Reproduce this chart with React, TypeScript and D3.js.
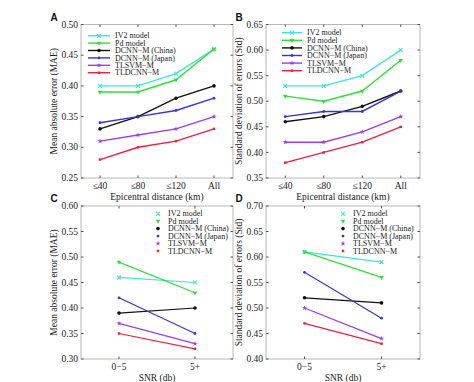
import React from "react";
import * as d3 from "d3";

const seriesNames = ["IV2 model", "Pd model", "DCNN\u2212M (China)", "DCNN\u2212M (Japan)", "TLSVM\u2212M", "TLDCNN\u2212M"];
const seriesColors = ["#3fe6d2", "#2fe03a", "#111111", "#3535d8", "#9b3cf0", "#ee2040"];
const seriesMarkers = ["x", "triDown", "circle", "dot", "star", "square"];

const distCats = ["\u226440", "\u226480", "\u2264120", "All"];
const snrCats = ["0\u22125", "5+"];

const maeDist = [
  [0.40, 0.40, 0.42, 0.46],
  [0.39, 0.39, 0.41, 0.46],
  [0.33, 0.35, 0.38, 0.40],
  [0.34, 0.35, 0.36, 0.38],
  [0.31, 0.32, 0.33, 0.35],
  [0.28, 0.30, 0.31, 0.33],
];
const stdDist = [
  [0.53, 0.53, 0.55, 0.60],
  [0.51, 0.50, 0.52, 0.58],
  [0.46, 0.47, 0.49, 0.52],
  [0.47, 0.48, 0.48, 0.52],
  [0.42, 0.42, 0.44, 0.47],
  [0.38, 0.40, 0.42, 0.45],
];
const maeSnr = [
  [0.46, 0.45],
  [0.49, 0.43],
  [0.39, 0.40],
  [0.42, 0.35],
  [0.37, 0.33],
  [0.35, 0.32],
];
const stdSnr = [
  [0.61, 0.59],
  [0.61, 0.56],
  [0.52, 0.51],
  [0.57, 0.48],
  [0.50, 0.44],
  [0.47, 0.43],
];

const yTicksA = ["0.25", "0.30", "0.35", "0.40", "0.45", "0.50"];
const yTicksB = ["0.35", "0.40", "0.45", "0.50", "0.55", "0.60", "0.65"];
const yTicksC = ["0.30", "0.35", "0.40", "0.45", "0.50", "0.55", "0.60"];
const yTicksD = ["0.40", "0.45", "0.50", "0.55", "0.60", "0.65", "0.70"];

const FONT = "'Liberation Serif', 'Times New Roman', serif";

function Marker({ type, x, y, color }: { type: string; x: number; y: number; color: string }) {
  if (type === "x") {
    const s = 1.9;
    return (
      <path d={`M${x - s},${y - s}L${x + s},${y + s}M${x - s},${y + s}L${x + s},${y - s}`} stroke={color} strokeWidth={1.1} fill="none" />
    );
  }
  if (type === "triDown") {
    const p = d3.symbol(d3.symbolTriangle, 9)();
    return <path d={p || ""} transform={`translate(${x},${y}) rotate(180)`} fill={color} />;
  }
  if (type === "circle") {
    return <circle cx={x} cy={y} r={1.8} fill={color} />;
  }
  if (type === "dot") {
    return <circle cx={x} cy={y} r={1.4} fill={color} />;
  }
  if (type === "star") {
    const p = d3.symbol(d3.symbolStar, 8)();
    return <path d={p || ""} transform={`translate(${x},${y})`} fill={color} />;
  }
  const p = d3.symbol(d3.symbolSquare, 6)();
  return <path d={p || ""} transform={`translate(${x},${y})`} fill={color} />;
}

type PanelProps = {
  letter: string;
  box: { x0: number; x1: number; y0: number; y1: number };
  cats: string[];
  data: number[][];
  yTicks: string[];
  yLabel: string;
  xLabel: string;
  legendLines: boolean;
  legend: { x: number; y: number; dy: number; lineLen: number };
  lineWidth: number;
};

function Panel({ letter, box, cats, data, yTicks, yLabel, xLabel, legendLines, legend, lineWidth }: PanelProps) {
  const ticks = yTicks.map(Number);
  const x = d3.scaleLinear().domain([0.5, cats.length + 0.5]).range([box.x0, box.x1]);
  const y = d3.scaleLinear().domain([ticks[0], ticks[ticks.length - 1]]).range([box.y1, box.y0]);
  const line = d3.line<number>().x((_, i) => x(i + 1)).y((v) => y(v));
  const tk = 2.5;
  const tickColor = "#555";
  return (
    <g>
      <rect x={box.x0} y={box.y0} width={box.x1 - box.x0} height={box.y1 - box.y0} fill="white" stroke="#b8b8b8" strokeWidth={1} />
      {yTicks.map((lab, i) => {
        const t = ticks[i];
        return (
          <g key={"y" + lab}>
            <line x1={box.x0} x2={box.x0 + tk} y1={y(t)} y2={y(t)} stroke={tickColor} />
            <line x1={box.x1} x2={box.x1 - tk} y1={y(t)} y2={y(t)} stroke={tickColor} />
            <text x={box.x0 - 3} y={y(t)} dy="0.33em" textAnchor="end" fontSize={9.5} fontFamily={FONT} fill="#222">
              {lab}
            </text>
          </g>
        );
      })}
      {cats.map((c, i) => (
        <g key={"x" + c}>
          <line x1={x(i + 1)} x2={x(i + 1)} y1={box.y1} y2={box.y1 - tk} stroke={tickColor} />
          <line x1={x(i + 1)} x2={x(i + 1)} y1={box.y0} y2={box.y0 + tk} stroke={tickColor} />
          <text x={x(i + 1)} y={box.y1 + 11} textAnchor="middle" fontSize={9.5} fontFamily={FONT} fill="#222">
            {c}
          </text>
        </g>
      ))}
      {data.map((vals, si) => (
        <g key={"s" + si}>
          <path d={line(vals) || ""} fill="none" stroke={seriesColors[si]} strokeWidth={lineWidth} />
          {vals.map((v, i) => (
            <Marker key={i} type={seriesMarkers[si]} x={x(i + 1)} y={y(v)} color={seriesColors[si]} />
          ))}
        </g>
      ))}
      {seriesNames.map((n, si) => {
        const ly = legend.y + si * legend.dy;
        const mx = legend.x + legend.lineLen / 2;
        return (
          <g key={"l" + si}>
            {legendLines && (
              <line x1={legend.x} x2={legend.x + legend.lineLen} y1={ly} y2={ly} stroke={seriesColors[si]} strokeWidth={lineWidth} />
            )}
            <Marker type={seriesMarkers[si]} x={mx} y={ly} color={seriesColors[si]} />
            <text x={legend.x + legend.lineLen + 5} y={ly} dy="0.33em" fontSize={8} fontFamily={FONT} fill="#222">
              {n}
            </text>
          </g>
        );
      })}
      <text
        transform={`translate(${box.x0 - 24},${(box.y0 + box.y1) / 2}) rotate(-90)`}
        textAnchor="middle"
        fontSize={9.5}
        fontFamily={FONT}
        fill="#222"
      >
        {yLabel}
      </text>
      <text x={(box.x0 + box.x1) / 2} y={box.y1 + 22} textAnchor="middle" fontSize={9.5} fontFamily={FONT} fill="#222">
        {xLabel}
      </text>
      <text x={box.x0 - 27} y={box.y0 - 4} textAnchor="middle" fontSize={10} fontWeight="bold" fontFamily="'Liberation Sans', Arial, sans-serif" fill="#111">
        {letter}
      </text>
    </g>
  );
}

export default function App() {
  return (
    <svg width={474} height={382} style={{ position: "absolute", left: 0, top: 0, background: "white" }}>
      <rect width={474} height={382} fill="white" />
      <Panel
        letter="A"
        box={{ x0: 81, x1: 233, y0: 24.5, y1: 178 }}
        cats={distCats}
        data={maeDist}
        yTicks={yTicksA}
        yLabel="Mean absolute error (MAE)"
        xLabel="Epicentral distance (km)"
        legendLines={true}
        legend={{ x: 88, y: 35.7, dy: 7.4, lineLen: 22 }}
        lineWidth={1.4}
      />
      <Panel
        letter="B"
        box={{ x0: 266, x1: 420, y0: 24.5, y1: 178 }}
        cats={distCats}
        data={stdDist}
        yTicks={yTicksB}
        yLabel="Standard deviation of errors (Std)"
        xLabel="Epicentral distance (km)"
        legendLines={true}
        legend={{ x: 282, y: 32.7, dy: 7.6, lineLen: 20 }}
        lineWidth={1.4}
      />
      <Panel
        letter="C"
        box={{ x0: 81, x1: 233, y0: 206, y1: 359 }}
        cats={snrCats}
        data={maeSnr}
        yTicks={yTicksC}
        yLabel="Mean absolute error (MAE)"
        xLabel="SNR (db)"
        legendLines={false}
        legend={{ x: 153, y: 213.7, dy: 7.45, lineLen: 10 }}
        lineWidth={1.2}
      />
      <Panel
        letter="D"
        box={{ x0: 266, x1: 420, y0: 206, y1: 359 }}
        cats={snrCats}
        data={stdSnr}
        yTicks={yTicksD}
        yLabel="Standard deviation of errors (Std)"
        xLabel="SNR (db)"
        legendLines={false}
        legend={{ x: 338, y: 213.7, dy: 7.45, lineLen: 10 }}
        lineWidth={1.2}
      />
    </svg>
  );
}
